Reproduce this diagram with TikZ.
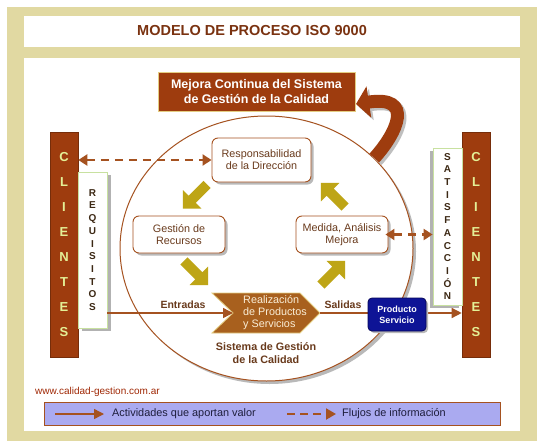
\documentclass[tikz,border=0pt]{standalone}
\usepackage{fontspec}
\setmainfont{Liberation Sans}
\usetikzlibrary{arrows.meta,shadows,shapes.geometric}
\definecolor{beige}{RGB}{225,217,162}
\definecolor{brownD}{RGB}{158,60,14}
\definecolor{brownR}{RGB}{168,96,30}
\definecolor{linebrown}{RGB}{165,82,32}
\definecolor{textbrown}{RGB}{105,58,28}
\definecolor{titlebrown}{RGB}{122,50,16}
\definecolor{arrowgold}{RGB}{190,165,22}
\definecolor{cliletter}{RGB}{228,240,150}
\definecolor{lettdark}{RGB}{60,40,20}
\definecolor{prodblue}{RGB}{14,20,150}
\definecolor{prodborder}{RGB}{5,5,90}
\definecolor{legfill}{RGB}{170,170,240}
\definecolor{legtext}{RGB}{30,30,60}
\definecolor{urlred}{RGB}{160,40,5}
\definecolor{reqborder}{RGB}{200,225,160}
\definecolor{goldline}{RGB}{228,205,130}
\definecolor{cream}{RGB}{250,238,215}
\newcommand\mytightlines{\lineskiplimit=-20pt\relax}
\tikzset{
  box/.style={draw=linebrown, line width=0.9pt, fill=white, rounded corners=6pt,
    text=textbrown, font=\fontsize{10.8}{12}\selectfont, align=center, inner sep=0pt,
    drop shadow={shadow xshift=2.5pt, shadow yshift=-2.5pt, fill=gray!55, opacity=1}},
  clibar/.style={fill=brownD, draw=brownD!75!black, line width=0.6pt, minimum width=28pt,
    minimum height=225pt, inner sep=0pt, text=cliletter,
    font=\fontsize{13}{25}\selectfont\bfseries, align=center},
  vbox/.style={fill=white, draw=reqborder, line width=0.8pt, minimum width=29pt, inner sep=0pt,
    text=lettdark, font=\fontsize{10}{12.7}\selectfont\bfseries\mytightlines, align=center},
  dasharr/.style={draw=linebrown, line width=2.2pt, dash pattern=on 8pt off 6pt,
    {Triangle[length=9pt,width=11pt]}-{Triangle[length=9pt,width=11pt]}},
  solarr/.style={draw=linebrown, line width=1.4pt, -{Triangle[length=10pt,width=10pt]}},
  flowlabel/.style={text=textbrown, font=\fontsize{10.5}{12}\selectfont\bfseries},
  yarr/.pic={\fill[arrowgold] (17,0) -- (4,13) -- (4,5) -- (-17,5) -- (-17,-5) -- (4,-5) -- (4,-13) -- cycle;}
}
\begin{document}
\begin{tikzpicture}[x=1pt,y=-1pt]
\useasboundingbox (0,0) rectangle (543,444);
\fill[white] (0,0) rectangle (543,444);
\fill[beige] (7,7) rectangle (537,441);
\fill[white] (24,16) rectangle (520,47);
\fill[white] (24,58) rectangle (520,431);

\node[text=titlebrown, font=\fontsize{14.5}{17}\selectfont\bfseries] (title) at (252,31) {MODELO DE PROCESO ISO 9000};

% big ellipse
\node[draw=linebrown, line width=1pt, fill=white, ellipse, minimum width=293pt, minimum height=265pt, inner sep=0pt,
  drop shadow={shadow xshift=3pt, shadow yshift=-3pt, fill=gray!55, opacity=1}] (sgc) at (266.5,248.5) {};

% continuous improvement box
\node[fill=brownD, draw=goldline, line width=0.8pt, minimum width=197pt, minimum height=39pt, inner sep=0pt,
  text=white, font=\fontsize{12.5}{14.5}\selectfont\bfseries, align=center] (mej) at (256.5,91.5)
  {Mejora Continua del Sistema\\de Gestión de la Calidad};

% circular arrow
\coordinate (cs) at (sgc.40.7);
\coordinate (ce) at (356,104);
\draw[gray!50, line width=13pt, -{Triangle[width=31pt,length=13pt]}] ([shift={(2.5,2.5)}]cs) .. controls (399.5,135.5) and (417.5,97.5) .. ([shift={(2.5,2.5)}]ce);
\draw[brownD, line width=13pt, -{Triangle[width=31pt,length=13pt]}] (cs) .. controls (397,133) and (415,95) .. (ce);

% process boxes
\node[box, minimum width=99pt, minimum height=44pt] (resp) at (261.5,160) {Responsabilidad\\de la Dirección};
\node[box, minimum width=92pt, minimum height=37pt] (gest) at (179,234.5) {Gestión de\\Recursos};
\node[box, minimum width=92pt, minimum height=37pt] (med) at (342,234.5) {Medida, Análisis\\Mejora};

% gold arrows
\pic[rotate=225] at (195,196.5) {yarr};
\pic[rotate=315] at (196,273) {yarr};
\pic[rotate=135] at (333,195) {yarr};
\pic[rotate=45] at (333,273) {yarr};

% product realization
\fill[brownR, draw=goldline, line width=0.8pt] (212,293) -- (300,293) -- (320,313) -- (300,333) -- (212,333) -- (233,313) -- cycle;
\coordinate (notch) at (233,313);
\coordinate (rtip) at (320,313);
\node[text=cream, font=\fontsize{10.8}{12}\selectfont, align=left, anchor=west, inner sep=0pt] (real) at (243,313)
  {Realización\\de Productos\\y Servicios};

% clients bars
\node[clibar] (cliL) at (64,244.5) {C\\L\\I\\E\\N\\T\\E\\S};
\node[clibar] (cliR) at (476,244.5) {C\\L\\I\\E\\N\\T\\E\\S};
\node[vbox, minimum height=156pt,
  drop shadow={shadow xshift=3.5pt, shadow yshift=-3pt, fill=gray!60, opacity=1}] (req) at (92.5,250)
  {R\\E\\Q\\U\\I\\S\\I\\T\\O\\S};
\node[vbox, minimum height=157pt,
  drop shadow={shadow xshift=-3.5pt, shadow yshift=-3pt, fill=gray!60, opacity=1}] (sat) at (447.5,226.5)
  {S\\A\\T\\I\\S\\F\\A\\C\\C\\I\\Ó\\N};

% flows
\draw[solarr] (req.east |- notch) -- (notch);
\draw[solarr] (rtip) -- (rtip -| cliR.west);
\node[fill=prodblue, draw=prodborder, line width=0.8pt, rounded corners=4pt, minimum width=58pt, minimum height=33pt,
  inner sep=0pt, text=white, font=\fontsize{9}{11}\selectfont\bfseries, align=center,
  drop shadow={shadow xshift=2pt, shadow yshift=-2pt, fill=gray!55, opacity=1}] (prod) at (397,314.5) {Producto\\Servicio};
\node[flowlabel] (entr) at (183,305) {Entradas};
\node[flowlabel] (sal) at (343,305) {Salidas};

\draw[dasharr] (cliL.east |- resp.west) -- (resp.west);
\draw[dasharr] ([xshift=-3pt]med.east) -- (med.east -| sat.west);

\node[text=textbrown, font=\fontsize{10.8}{12.5}\selectfont\bfseries, align=center] (sgctext) at (266,353)
  {Sistema de Gestión\\de la Calidad};

\node[text=urlred, font=\fontsize{10}{12}\selectfont, anchor=west, inner sep=0pt] (url) at (35,392) {www.calidad-gestion.com.ar};

% legend
\node[fill=legfill, draw=linebrown, line width=0.8pt, minimum width=456pt, minimum height=23pt, inner sep=0pt] (leg) at (272,413.5) {};
\coordinate (l1s) at (55,414);
\coordinate (l1e) at (104,414);
\coordinate (l2s) at (287,414);
\coordinate (l2e) at (336,414);
\draw[solarr] (l1s) -- (l1e);
\draw[draw=linebrown, line width=2pt, dash pattern=on 8pt off 5pt, -{Triangle[length=10pt,width=11pt]}] (l2s) -- (l2e);
\node[text=legtext, font=\fontsize{10.9}{13}\selectfont, anchor=west, inner sep=0pt] (leg1) at (112,414) {Actividades que aportan valor};
\node[text=legtext, font=\fontsize{10.9}{13}\selectfont, anchor=west, inner sep=0pt] (leg2) at (342,414) {Flujos de información};
\end{tikzpicture}
\end{document}
